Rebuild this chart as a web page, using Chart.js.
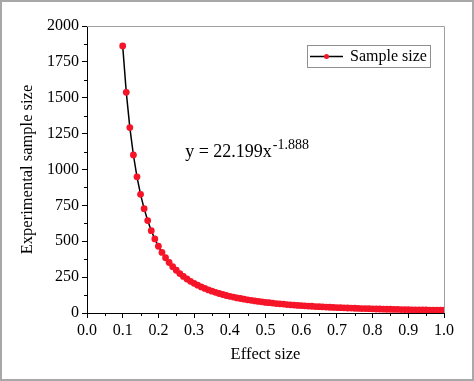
<!DOCTYPE html>
<html>
<head>
<meta charset="utf-8">
<script src="https://cdn.jsdelivr.net/npm/chart.js@4/dist/chart.umd.min.js"></script>
<style>
  html, body { margin: 0; padding: 0; background: #fff; }
  #wrap { width: 470px; height: 377px; border: 2px solid #a8a8a8; position: relative; }
  canvas { display: block; }
</style>
</head>
<body>
<div id="wrap"><canvas id="c" width="470" height="377"></canvas></div>
<script>
const effectSizes = [0.10,0.11,0.12,0.13,0.14,0.15,0.16,0.17,0.18,0.19,
  0.20,0.21,0.22,0.23,0.24,0.25,0.26,0.27,0.28,0.29,
  0.30,0.31,0.32,0.33,0.34,0.35,0.36,0.37,0.38,0.39,
  0.40,0.41,0.42,0.43,0.44,0.45,0.46,0.47,0.48,0.49,
  0.50,0.51,0.52,0.53,0.54,0.55,0.56,0.57,0.58,0.59,
  0.60,0.61,0.62,0.63,0.64,0.65,0.66,0.67,0.68,0.69,
  0.70,0.71,0.72,0.73,0.74,0.75,0.76,0.77,0.78,0.79,
  0.80,0.81,0.82,0.83,0.84,0.85,0.86,0.87,0.88,0.89,
  0.90,0.91,0.92,0.93,0.94,0.95,0.96,0.97,0.98,0.99,1.00];
const sampleSizes = [1861,1538,1292,1101,949,827,727,644,574,516,
  465,422,385,352,323,298,275,255,237,221,
  207,194,182,171,161,152,144,136,129,122,
  116,111,105,101,96,92,88,84,81,78,
  74,72,69,66,64,62,59,57,55,53,
  52,50,48,47,45,44,43,41,40,39,
  38,37,36,35,34,33,32,31,31,30,
  29,28,28,27,26,26,25,25,24,23,
  23,22,22,22,21,21,20,20,19,19,19];
const xMinorTicks = [0.05,0.15,0.25,0.35,0.45,0.55,0.65,0.75,0.85,0.95];
const yMinorTicks = [125,375,625,875,1125,1375,1625,1875];
const seriesName = 'Sample size';
const xTitle = 'Effect size';
const yTitle = 'Experimental sample size';
const equationMain = 'y = 22.199x';
const equationExp = '-1.888';

const FONT = "'Liberation Serif', 'Times New Roman', serif";
const RED = 'rgb(245,20,40)';

const points = effectSizes.map((x, i) => ({ x: x, y: sampleSizes[i] }));

const extras = {
  id: 'extras',
  beforeDatasetsDraw(chart) {
    const { ctx, chartArea: a, scales: { x, y } } = chart;
    ctx.save();
    ctx.strokeStyle = '#a0a0a0';
    ctx.lineWidth = 1;
    ctx.beginPath();
    ctx.moveTo(a.left, a.top + 0.5);
    ctx.lineTo(a.right + 0.5, a.top + 0.5);
    ctx.lineTo(a.right + 0.5, a.bottom);
    ctx.stroke();
    ctx.strokeStyle = '#000';
    ctx.beginPath();
    xMinorTicks.forEach(v => {
      const px = Math.round(x.getPixelForValue(v)) + 0.5;
      ctx.moveTo(px, a.bottom);
      ctx.lineTo(px, a.bottom + 3);
    });
    yMinorTicks.forEach(v => {
      const py = Math.round(y.getPixelForValue(v)) + 0.5;
      ctx.moveTo(a.left, py);
      ctx.lineTo(a.left - 3, py);
    });
    ctx.stroke();
    ctx.restore();
  },
  afterDraw(chart) {
    const { ctx, scales: { x, y } } = chart;
    ctx.save();
    ctx.fillStyle = '#000';
    ctx.font = "18px " + FONT;
    ctx.textBaseline = 'alphabetic';
    const ex = x.getPixelForValue(0.275);
    const ey = y.getPixelForValue(1085);
    ctx.fillText(equationMain, ex, ey);
    const w = ctx.measureText(equationMain).width;
    ctx.font = "14px " + FONT;
    ctx.fillText(equationExp, ex + w + 1, ey - 8);
    const lx = 305, ly = 43, lw = 123, lh = 22;
    ctx.strokeStyle = '#909090';
    ctx.lineWidth = 1;
    ctx.strokeRect(lx + 0.5, ly + 0.5, lw, lh);
    ctx.strokeStyle = '#000';
    ctx.lineWidth = 1.5;
    ctx.beginPath();
    ctx.moveTo(lx + 3, ly + lh / 2 + 0.5);
    ctx.lineTo(lx + 36, ly + lh / 2 + 0.5);
    ctx.stroke();
    ctx.fillStyle = RED;
    ctx.beginPath();
    ctx.arc(lx + 19.5, ly + lh / 2 + 0.5, 2.5, 0, Math.PI * 2);
    ctx.fill();
    ctx.fillStyle = '#000';
    ctx.font = "16px " + FONT;
    ctx.textBaseline = 'middle';
    ctx.fillText(seriesName, lx + 43, ly + lh / 2 + 1);
    ctx.restore();
  }
};

new Chart(document.getElementById('c'), {
  type: 'line',
  data: {
    datasets: [{
      label: seriesName,
      data: points,
      borderColor: '#000',
      borderWidth: 1.5,
      pointBackgroundColor: RED,
      pointBorderColor: RED,
      pointBorderWidth: 0,
      pointRadius: 3.4,
      tension: 0,
      fill: false
    }]
  },
  options: {
    responsive: false,
    animation: false,
    devicePixelRatio: 1,
    layout: { padding: { left: 0, right: 28, top: 24, bottom: 0 } },
    plugins: { legend: { display: false }, tooltip: { enabled: false } },
    scales: {
      x: {
        type: 'linear',
        min: 0, max: 1,
        afterFit(s) { s.height = 66; },
        ticks: {
          stepSize: 0.1,
          color: '#000',
          font: { family: FONT, size: 16 },
          padding: 3,
          maxRotation: 0,
          callback: v => Number(v).toFixed(1)
        },
        grid: { drawOnChartArea: false, tickLength: 5, color: '#000', tickColor: '#000' },
        border: { color: '#000', width: 1 },
        title: { display: true, text: xTitle, color: '#000', font: { family: FONT, size: 16.5 }, padding: { top: 0, bottom: 14 } }
      },
      y: {
        type: 'linear',
        min: 0, max: 2000,
        afterFit(s) { s.width = 85; },
        ticks: {
          stepSize: 250,
          color: '#000',
          font: { family: FONT, size: 16 },
          padding: 3,
          callback: v => String(v)
        },
        grid: { drawOnChartArea: false, tickLength: 5, color: '#000', tickColor: '#000' },
        border: { color: '#000', width: 1 },
        title: { display: true, text: yTitle, color: '#000', font: { family: FONT, size: 16.5 }, padding: { top: 16, bottom: 0 } }
      }
    }
  },
  plugins: [extras]
});
</script>
</body>
</html>
